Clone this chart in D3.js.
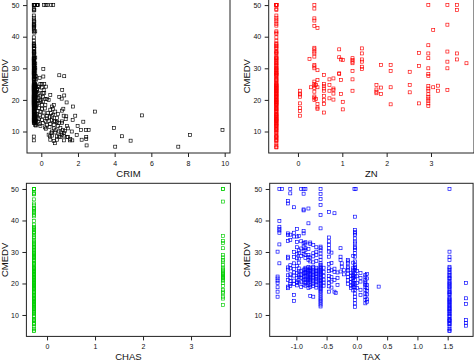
<!DOCTYPE html>
<html><head><meta charset="utf-8">
<script src="https://cdn.jsdelivr.net/npm/d3@7"></script>
<style>body{margin:0;background:#fff}svg{display:block}</style>
</head><body>
<svg id="chart" width="474" height="361"></svg>
<script>
// ---------- tick labels / titles ----------
const yTicks = [10, 20, 30, 40, 50];
const crimTicks = [0, 2, 4, 6, 8, 10];
const znTicks = [0, 1, 2, 3];
const chasTicks = [0, 1, 2, 3];
const taxTicks = [-1.0, -0.5, 0.0, 0.5, 1.0, 1.5];
const xTitles = ["CRIM", "ZN", "CHAS", "TAX"];
const yTitle = "CMEDV";

// ---------- panel 1: CRIM (standardised) vs CMEDV ----------
const crimColAX = -0.41;
const crimColA = [50,50,50,48.8,48.3,46.7,46.0,45.4,44.8,44.0,43.8,43.5,43.1,42.8,42.3,41.7,39.8,38.7,37.9,37.6,37.3,37.0,36.5,36.2,35.4,35.2,34.9,34.6,33.8,33.4,33.2,33.1,32.9,32.7,32.5,32.4,32.2,32.0,31.6,31.5,31.2,31.0,30.8,30.5,30.1,29.9,29.6,29.4,29.1,29.0,28.7,28.5,28.4,28.2,28.0,27.9,27.5,27.1,26.7,26.6,26.4,26.2,25.3,25.0,24.8,24.7,24.5,24.4,24.2,24.1,24.0,23.9,23.8,23.6,23.4,23.3,23.1,23.0,22.9,22.8,22.6,22.5,22.2,22.0,21.9,21.7,21.6,21.4,21.2,21.1,21.0,20.9,20.8,20.6,20.5,20.4,20.3,20.1,20.0,19.9,19.7,19.6,19.5,19.4,19.3,19.1,19.0,18.9,18.7,18.6,18.5,18.4,18.2,18.1,17.8,17.5,17.4,17.1,16.8,16.6,16.5,16.1,16.0,15.6,15.3,15.0,14.6,14.4,14.1,13.8,13.6,13.3,13.1,12.7];
const crimColBX = -0.38;
const crimColB = [48.5,44.8,43.5,41.3,37.0,36.1,35.1,34.7,33.3,33.0,32.0,31.7,31.1,30.7,30.3,29.8,29.1,28.6,28.1,27.5,26.6,25.0,24.8,24.6,24.4,24.3,24.0,23.9,23.7,23.5,23.2,23.1,22.9,22.7,22.6,22.4,22.3,22.2,22.0,21.8,21.7,21.5,21.2,21.0,20.7,20.6,20.4,20.2,20.0,19.8,19.6,19.4,19.2,19.1,18.9,18.8,18.6,18.5,18.3,18.2,17.8,17.5,17.2,16.7,16.2,15.6,15.2,14.9,14.5,14.3,13.9,13.4,12.7];
const crimColCX = -0.33;
const crimColC = [41.7,33.4,31.5,30.1,29.6,28.4,27.5,26.6,25.0,24.7,24.4,24.1,23.8,23.3,23.1,22.8,22.6,22.3,22.0,21.7,21.4,21.2,20.8,20.6,20.3,20.0,19.7,19.5,19.3,18.9,18.6,18.4,18.1,17.8,17.4,16.6,15.6,15.2,14.5,14.1,13.8,13.5,13.0,12.5,12.0];
const crimScatter = [
 [-0.36,50],[-0.35,50],[-0.25,50],[-0.24,50],[-0.21,50],[-0.19,50],[0.15,50],[0.24,50],[0.34,50],[0.54,50],[0.65,50],
 [-0.41,8.4],[-0.41,7.2],
 [0.11,29.8],[0.11,27.4],[0.98,27.8],[1.25,27.5],[-0.09,27.0],[-0.28,27.5],[-0.3,26.4],
 [-0.05,25.0],[0.04,25.0],[0.16,25.0],[-0.14,24.2],[0.26,24.2],[0.04,23.9],[1.14,23.1],[0.13,23.2],[-0.28,24.6],[-0.18,24.0],[-0.24,23.2],
 [-0.22,23.5],[-0.27,22.5],[-0.2,21.9],[-0.28,21.0],[-0.15,20.6],[-0.25,19.8],[-0.22,18.7],[-0.27,17.9],[-0.2,16.5],[-0.25,15.4],[-0.3,14.9],[-0.2,14.4],[-0.3,13.3],[-0.18,13.1],[-0.27,12.6],[-0.1,12.3],[-0.28,11.9],[-0.05,11.7],
 [0.49,21.6],[-0.12,22.2],[0.08,22.2],[0.16,22.2],[1.25,21.4],[-0.05,21.1],[0.09,20.9],[0.98,20.9],[1.11,20.4],[0.22,20.3],[0.31,20.3],[0.4,20.0],[-0.05,20.0],[-0.02,19.5],[0.09,19.5],[1.38,19.2],[-0.14,19.0],[0.04,18.4],[0.22,18.4],[0.68,18.4],[1.72,17.9],[0.58,17.9],
 [-0.14,17.4],[0.04,17.1],[0.19,17.3],[0.49,16.9],[0.64,17.1],[1.2,17.2],[1.13,16.6],
 [-0.05,16.3],[0.13,16.0],[0.35,15.8],[0.53,15.8],[0.76,16.3],[2.93,16.3],[0.65,15.2],[0.9,15.6],
 [-0.09,15.3],[0.09,14.8],[0.31,15.0],[0.58,14.8],[0.86,14.3],[1.22,15.0],[1.36,14.8],[1.85,15.0],[5.5,15.1],[0.3,14.1],[0.45,14.5],
 [-0.14,13.9],[0.04,13.7],[0.22,13.4],[0.4,13.4],[0.58,13.7],[0.76,13.2],[1.33,13.9],[1.71,13.7],[2.29,13.1],[1.13,13.2],[0.7,13.3],[0.85,13.0],
 [0.95,12.7],[0.09,12.7],[0.31,12.1],[0.49,12.4],[0.68,12.1],[1.13,12.7],[1.4,11.8],[1.98,11.8],[0.9,11.7],[0.45,11.4],[0.2,11.3],[0.25,10.9],[0.7,11.0],[0.78,10.4],
 [1.04,11.1],[1.46,11.0],[3.96,11.1],[1.18,10.5],[2.16,10.5],[2.44,10.5],[2.58,10.5],[9.88,10.5],[0.95,10.0],[1.66,10.0],[0.58,10.0],[0.76,9.7],[1.06,9.7],[1.24,9.5],[1.3,10.2],[0.55,9.5],[1.12,9.0],
 [1.93,8.9],[8.1,8.9],[0.4,9.0],[0.58,8.7],[0.86,8.5],[1.04,8.3],[1.22,8.7],[1.4,8.3],[1.45,8.3],[2.45,8.3],[4.4,8.5],[0.47,8.5],[0.96,8.4],
 [1.58,7.6],[2.45,7.6],[2.2,7.4],[1.56,7.2],[1.69,7.2],[4.87,7.1],[1.24,7.2],[0.86,7.4],[0.49,7.4],[0.68,7.0],[0.75,6.3],[2.47,5.6],[4.03,5.2],[7.47,5.2]
];

// ---------- panel 2: ZN (standardised) vs CMEDV ----------
const znZeroX = -0.487;
const znZeroY = [50,50,50,50,50,50,48.8,48.5,46.7,46.0,45.4,44.8,44.0,43.5,41.7,41.3,40.9,39.8,38.7,37.9,37.6,37.2,36.9,36.4,36.1,35.4,35.1,34.9,34.6,33.8,33.4,33.2,33.1,32.7,32.4,32.0,31.6,31.5,31.1,30.7,30.3,30.1,29.8,29.6,29.4,29.1,28.7,28.5,28.4,28.1,28.0,27.9,27.5,27.1,26.6,26.4,26.2,25.9,25.3,25.0,24.8,24.7,24.5,24.4,24.1,23.9,23.8,23.6,23.4,23.1,23.0,22.9,22.7,22.5,22.2,22.0,21.9,21.7,21.4,21.2,21.0,20.9,20.6,20.4,20.1,20.0,19.9,19.6,19.4,19.3,19.1,18.9,18.7,18.5,18.4,18.2,17.8,17.4,17.2,17.1,16.8,16.5,16.3,16.1,15.6,15.4,15.2,15.0,14.9,14.6,14.4,14.1,14.0,13.8,13.6,13.4,13.3,13.1,12.7,12.5,12.3,12.0,11.9,11.7,11.3,10.9,10.8,10.5,10.2,9.7,9.5,8.8,8.5,8.3,8.1,7.5,7.2,7.0,6.3,5.6,5.0,5.0];
const znScatter = [
 [0.049,22.9],[0.049,22.0],[0.049,21.7],[0.049,21.0],[0.049,18.9],[0.049,17.5],[0.049,16.5],[0.049,15.0],
 [0.26,33.0],[0.29,24.0],
 [0.37,50],[0.37,48.9],[0.37,45.8],[0.37,45.1],[0.37,43.4],[0.37,36.5],[0.37,36.0],[0.37,35.3],[0.37,34.7],[0.37,33.7],[0.37,31.0],[0.37,30.6],[0.37,30.0],[0.37,25.8],[0.37,25.0],[0.37,24.5],[0.37,23.8],[0.37,22.6],[0.37,21.1],[0.37,20.7],[0.37,20.0],
 [0.44,42.8],[0.44,29.4],[0.44,26.3],[0.41,24.7],[0.44,24.0],[0.41,20.3],[0.44,18.7],[0.44,17.6],[0.44,17.2],
 [0.59,27.9],[0.59,25.0],[0.59,24.4],[0.59,23.6],[0.59,22.9],[0.59,21.3],[0.59,20.0],[0.59,18.7],[0.59,16.0],
 [0.71,26.5],[0.71,24.7],[0.71,22.9],[0.71,20.5],
 [0.8,26.8],[0.8,23.6],[0.8,23.1],[0.8,22.0],[0.8,20.1],
 [0.93,36.0],[0.93,33.5],[0.93,28.4],[0.93,28.2],
 [0.97,32.8],[0.97,26.3],[0.97,21.9],
 [1.01,32.6],[1.01,19.4],[1.01,17.0],
 [1.23,33.2],[1.23,32.6],[1.23,32.1],[1.23,31.6],[1.23,29.1],[1.23,26.5],[1.23,22.9],
 [1.44,36.3],[1.44,34.7],[1.44,32.8],[1.44,32.1],[1.44,30.5],[1.44,29.8],
 [1.77,24.7],[1.77,23.3],[1.77,22.6],[1.77,22.1],
 [1.87,31.0],[1.87,23.9],[1.87,21.9],
 [2.09,31.0],[2.09,29.1],[2.09,24.0],[2.09,18.6],
 [2.52,28.9],[2.52,24.7],[2.52,22.4],
 [2.73,34.9],[2.73,30.7],[2.73,18.9],
 [2.94,50],[2.94,37.3],[2.94,34.7],[2.94,33.2],[2.94,30.0],[2.94,28.2],[2.94,27.6],[2.94,24.4],[2.94,23.6],[2.94,22.9],[2.94,21.8],[2.94,21.0],[2.94,20.4],[2.94,19.7],[2.94,18.9],[2.94,18.1],
 [3.05,42.1],[3.05,24.0],
 [3.16,24.5],[3.16,22.9],
 [3.37,50],[3.37,43.8],[3.37,35.3],[3.37,32.1],[3.37,30.0],[3.37,23.1],
 [3.59,50],[3.59,48.5],[3.59,34.7],[3.59,32.8],
 [3.80,31.6]
];

// ---------- panel 3: CHAS (standardised) vs CMEDV ----------
const chasZeroX = -0.272;
const chasZeroY = [50,50,50,50,50,48.8,48.5,48.3,46.7,45.4,44.8,44.0,43.8,43.5,43.1,42.8,42.3,41.7,41.3,39.8,38.7,37.9,37.6,37.3,37.0,36.5,36.2,36.1,35.4,34.9,34.6,33.8,33.4,33.1,32.7,32.4,32.0,31.6,31.5,31.2,30.8,30.5,30.1,29.8,29.6,29.4,29.1,28.7,28.5,28.4,28.1,27.9,27.5,27.1,26.6,26.4,26.2,25.9,25.3,25.0,24.8,24.7,24.5,24.4,24.1,23.9,23.8,23.6,23.4,23.1,23.0,22.9,22.7,22.5,22.2,22.0,21.9,21.7,21.4,21.2,21.0,20.9,20.6,20.4,20.1,20.0,19.9,19.6,19.4,19.3,19.1,18.9,18.7,18.5,18.4,18.2,17.8,17.4,17.2,17.1,16.8,16.5,16.3,16.1,15.6,15.4,15.2,15.0,14.9,14.6,14.4,14.1,14.0,13.8,13.6,13.4,13.3,13.1,12.7,12.5,12.3,12.0,11.9,11.7,11.3,10.9,10.8,10.5,10.2,9.7,9.5,8.8,8.5,8.3,8.1,7.5,7.2,7.0,6.3,5.6,5.0,5.0];
const chasOneX = 3.665;
const chasOneY = [50,50,46.0,35.1,33.5,32.8,31.2,29.0,28.3,27.5,27.0,25.9,25.1,24.5,24.1,23.8,23.3,23.0,22.7,22.4,22.0,21.9,21.7,21.3,20.9,20.1,19.2,17.9,17.4,16.9,15.8,15.2,13.2];

// ---------- panel 4: TAX (standardised) vs CMEDV ----------
const tax666X = 1.53;
const tax666Y = [50,30.1,28.5,27.5,25.3,24.8,24.3,23.7,23.2,22.7,22.2,21.7,21.4,20.8,20.3,20.0,19.6,19.1,18.8,18.4,17.8,17.3,17.1,16.7,16.3,15.6,15.2,14.9,14.5,14.1,13.8,13.4,13.1,12.7,12.3,11.9,11.7,11.3,10.9,10.5,10.2,9.7,9.5,8.8,8.5,8.3,8.1,7.5,7.2,7.0,6.3,5.6,5.0,5.0];
const taxScatter = [
 [-1.31,30.1],[-1.31,22.2],[-1.31,21.6],[-1.31,20.9],[-1.31,20.1],[-1.31,18.8],[-1.31,17.4],[-1.31,15.8],
 [-1.28,50],[-1.28,39.8],[-1.28,38.0],[-1.28,37.3],[-1.28,36.8],[-1.28,36.1],[-1.28,32.4],[-1.28,26.4],[-1.24,50],
 [-1.14,46.2],[-1.14,45.4],[-1.14,35.9],[-1.14,35.4],[-1.14,33.5],[-1.14,28.5],[-1.14,28.0],[-1.14,25.1],[-1.14,24.4],[-1.14,22.6],[-1.14,21.1],[-1.14,19.0],[-1.14,18.5],
 [-1.10,50],[-1.10,48.6],[-1.10,35.5],[-1.10,33.8],[-1.10,25.8],[-1.10,24.8],[-1.10,22.9],[-1.10,21.7],[-1.10,20.7],[-1.10,19.8],[-1.10,19.2],
 [-1.04,44.2],[-1.04,36.1],[-1.04,34.9],[-1.04,30.0],[-1.04,28.4],[-1.04,26.4],[-1.04,24.6],[-1.04,23.5],[-1.04,22.5],[-1.04,20.9],[-1.04,19.8],[-1.04,16.3],[-1.04,14.5],
 [-0.99,37.3],[-0.99,34.9],[-0.99,33.2],[-0.99,31.5],[-0.99,29.4],[-0.99,28.0],[-0.99,25.5],[-0.99,23.3],[-0.99,21.7],[-0.99,20.5],[-0.99,20.1],[-0.99,19.4],
 [-0.96,35.1],[-0.96,30.5],[-0.96,29.6],[-0.96,27.9],[-0.96,26.6],[-0.96,24.8],[-0.96,23.8],[-0.96,22.6],[-0.96,22.0],[-0.96,20.3],
 [-0.92,50],[-0.88,50],[-0.88,48.5],[-0.88,43.5],[-0.88,43.2],[-0.88,36.7],[-0.88,35.9],[-0.92,33.4],[-0.88,32.9],[-0.88,31.7],[-0.92,31.1],[-0.88,30.3],[-0.88,29.4],[-0.92,28.7],[-0.88,24.4],[-0.92,23.9],[-0.88,23.2],[-0.92,22.8],[-0.88,22.2],[-0.92,21.7],[-0.88,21.2],[-0.92,20.6],[-0.88,19.6],[-0.92,18.9],
 [-0.85,50],[-0.85,33.1],[-0.85,32.7],[-0.85,31.2],[-0.85,30.7],[-0.85,29.1],[-0.85,28.1],[-0.85,25.0],[-0.85,24.6],[-0.85,24.2],[-0.85,23.7],[-0.85,23.3],[-0.85,22.9],[-0.85,22.4],[-0.85,21.6],[-0.85,21.1],[-0.85,20.5],[-0.85,20.0],[-0.85,19.3],
 [-0.80,43.8],[-0.80,39.1],[-0.80,31.0],[-0.80,29.0],[-0.80,28.4],[-0.80,27.5],[-0.80,25.2],[-0.80,24.4],[-0.80,24.0],[-0.80,23.4],[-0.80,22.7],[-0.80,22.0],[-0.80,21.4],[-0.80,20.9],[-0.80,20.2],[-0.80,19.6],[-0.80,18.6],
 [-0.77,33.0],[-0.77,32.5],[-0.77,28.2],[-0.77,27.0],[-0.77,25.0],[-0.77,24.7],[-0.77,24.3],[-0.77,23.9],[-0.77,23.1],[-0.77,22.6],[-0.77,22.2],[-0.77,21.6],[-0.77,21.0],[-0.77,20.6],[-0.77,19.4],[-0.77,18.9],[-0.77,16.0],
 [-0.72,32.2],[-0.72,29.6],[-0.72,28.6],[-0.72,26.7],[-0.72,25.3],[-0.72,24.8],[-0.72,24.1],[-0.72,23.6],[-0.72,23.2],[-0.72,22.8],[-0.72,22.2],[-0.72,21.8],[-0.72,21.2],[-0.72,20.6],[-0.72,19.9],[-0.72,19.2],[-0.72,15.8],
 [-0.67,31.5],[-0.67,30.1],[-0.67,29.1],[-0.67,27.1],[-0.67,25.0],[-0.67,24.4],[-0.67,24.0],[-0.67,23.5],[-0.67,23.0],[-0.67,22.5],[-0.67,22.0],[-0.67,21.5],[-0.67,20.8],[-0.67,20.3],[-0.67,19.5],[-0.67,18.7],
 [-0.60,50],[-0.60,48.4],[-0.60,46.8],[-0.60,44.9],[-0.60,41.7],[-0.60,37.5],[-0.60,31.7],[-0.60,31.2],[-0.60,30.5],[-0.60,29.5],[-0.60,28.5],[-0.60,27.5],[-0.60,26.4],[-0.60,25.9],[-0.60,25.3],[-0.60,25.0],[-0.60,24.7],[-0.60,24.4],[-0.60,24.1],[-0.60,23.8],[-0.60,23.5],[-0.60,23.2],[-0.60,22.9],[-0.60,22.6],[-0.60,22.2],[-0.60,21.9],[-0.60,21.6],[-0.60,21.2],[-0.60,20.9],[-0.60,20.6],[-0.60,20.2],[-0.60,19.8],[-0.60,19.4],[-0.60,19.0],[-0.60,18.6],[-0.60,18.2],[-0.60,17.8],[-0.60,17.4],[-0.60,16.8],[-0.60,16.2],[-0.60,15.6],[-0.60,15.0],[-0.60,14.4],[-0.60,13.9],[-0.60,13.3],[-0.60,12.7],
 [-0.55,25.0],[-0.55,23.7],[-0.55,22.4],[-0.55,21.2],[-0.55,20.3],[-0.55,19.3],
 [-0.46,42.7],[-0.46,34.6],[-0.46,33.4],[-0.46,32.2],[-0.46,31.2],[-0.46,30.1],[-0.46,28.5],[-0.46,26.2],[-0.46,24.8],[-0.46,23.9],[-0.46,22.4],[-0.46,21.4],[-0.46,20.1],[-0.46,19.1],[-0.46,17.4],
 [-0.42,29.8],[-0.42,26.5],[-0.42,24.2],[-0.42,22.0],[-0.42,20.6],[-0.42,18.7],
 [-0.37,42.3],[-0.37,24.7],[-0.37,23.7],[-0.37,21.1],[-0.37,17.4],[-0.35,17.0],
 [-0.32,23.5],[-0.32,21.8],[-0.32,19.5],
 [-0.27,31.2],[-0.27,28.5],[-0.27,27.5],[-0.25,26.4],[-0.25,25.3],[-0.27,23.8],
 [-0.21,24.2],[-0.21,22.9],
 [-0.15,27.5],[-0.15,27.0],[-0.15,26.4],[-0.15,25.3],[-0.15,24.8],[-0.15,24.2],[-0.15,23.1],[-0.15,22.0],[-0.15,21.0],[-0.15,19.9],
 [-0.10,23.4],[-0.10,22.5],[-0.10,21.4],[-0.10,20.5],[-0.10,19.3],[-0.10,18.6],
 [-0.06,28.7],[-0.06,26.6],[-0.06,25.0],[-0.06,24.4],[-0.06,23.8],[-0.06,22.8],[-0.06,22.3],[-0.06,21.7],[-0.06,20.9],[-0.06,20.2],[-0.06,19.6],[-0.06,18.9],[-0.06,17.8],
 [-0.04,50],[-0.02,50],[-0.03,41.2],[-0.03,37.0],[-0.03,36.4],[-0.03,35.9],[-0.03,35.4],[-0.03,34.3],[-0.03,33.3],[-0.03,32.7],[-0.03,31.7],[-0.03,31.2],[-0.03,30.6],[-0.03,29.6],[-0.03,28.5],[-0.03,27.0],[-0.03,25.9],[-0.03,25.3],[-0.03,24.8],[-0.03,24.3],[-0.03,23.2],[-0.03,22.2],[-0.03,21.1],[-0.03,20.0],[-0.03,18.9],[-0.03,17.9],[-0.03,16.8],[-0.03,15.8],[-0.03,14.8],[-0.03,13.7],[-0.03,12.6],
 [0.00,24.0],[0.00,22.3],[0.00,20.1],[0.00,18.6],
 [0.06,23.3],[0.06,21.7],[0.06,20.6],[0.06,18.0],[0.06,16.4],
 [0.14,22.7],[0.14,22.2],[0.14,21.1],[0.14,20.6],[0.14,20.0],[0.14,19.5],[0.14,19.0],[0.14,17.9],[0.14,16.8],[0.14,15.8],[0.14,14.8],[0.14,13.7],
 [0.17,23.0],[0.17,21.6],[0.17,19.5],[0.17,18.5],[0.17,17.6],[0.17,16.5],[0.17,15.0],[0.17,14.2],
 [0.36,19.0],
 [1.80,20.1],[1.80,15.3],[1.80,13.5],[1.80,8.4],[1.80,7.4],[1.80,6.6]
];

// ---------- assemble point sets ----------
const crimPoints = [
  ...crimColA.map(v => [crimColAX, v]),
  ...crimColB.map(v => [crimColBX, v]),
  ...crimColC.map(v => [crimColCX, v]),
  ...crimScatter];
const znPoints = [...znZeroY.map(v => [znZeroX, v]), ...znScatter];
const chasPoints = [...chasZeroY.map(v => [chasZeroX, v]), ...chasOneY.map(v => [chasOneX, v])];
const taxPoints = [...taxScatter, ...tax666Y.map(v => [tax666X, v])];

// ---------- layout ----------
const FONT = "'Liberation Sans', Arial, Helvetica, sans-serif";
const yDomain = [3.2, 51.8];
const panels = [
  {pts: crimPoints, ticks: crimTicks, fmt: d => String(d), title: xTitles[0], color: "#000000",
   xd: [-0.78, 10.29], xr: [27, 230], yr: [153, -0.6], ytx: 7.8},
  {pts: znPoints, ticks: znTicks, fmt: d => String(d), title: xTitles[1], color: "#FF0000",
   xd: [-0.66, 3.97], xr: [268.7, 474], yr: [153, -0.6], ytx: 249.5},
  {pts: chasPoints, ticks: chasTicks, fmt: d => String(d), title: xTitles[2], color: "#00CD00",
   xd: [-0.43, 3.82], xr: [26.4, 230.4], yr: [336.4, 183.3], ytx: 7.8},
  {pts: taxPoints, ticks: taxTicks, fmt: d => d.toFixed(1), title: xTitles[3], color: "#0000FF",
   xd: [-1.44, 1.92], xr: [269.7, 473.1], yr: [336.4, 183.3], ytx: 249.5}
];

const svg = d3.select("#chart");
svg.append("rect").attr("width", 474).attr("height", 361).attr("fill", "#fff");

panels.forEach(p => {
  const x = d3.scaleLinear().domain(p.xd).range(p.xr);
  const y = d3.scaleLinear().domain(yDomain).range(p.yr);
  const g = svg.append("g");

  g.append("g").selectAll("rect").data(p.pts).join("rect")
    .attr("x", d => x(d[0]) - 1.5).attr("y", d => y(d[1]) - 1.5)
    .attr("width", 3).attr("height", 3)
    .attr("fill", "none").attr("stroke", p.color).attr("stroke-width", 0.65);

  g.append("rect")
    .attr("x", p.xr[0]).attr("y", p.yr[1])
    .attr("width", p.xr[1] - p.xr[0]).attr("height", p.yr[0] - p.yr[1])
    .attr("fill", "none").attr("stroke", "#222").attr("stroke-width", 1);

  const xa = g.append("g").attr("transform", `translate(0,${p.yr[0]})`)
    .call(d3.axisBottom(x).tickValues(p.ticks).tickFormat(p.fmt).tickSize(4).tickPadding(4));
  const ya = g.append("g").attr("transform", `translate(${p.xr[0]},0)`)
    .call(d3.axisLeft(y).tickValues(yTicks).tickFormat(d => String(d)).tickSize(4).tickPadding(3.5));
  [xa, ya].forEach(a => {
    a.select(".domain").remove();
    a.selectAll("line").attr("stroke", "#222");
    a.selectAll("text").attr("font-family", FONT).attr("font-size", 7).attr("fill", "#111");
  });

  g.append("text").attr("x", (p.xr[0] + p.xr[1]) / 2).attr("y", p.yr[0] + 24)
    .attr("text-anchor", "middle").attr("font-family", FONT).attr("font-size", 9.5).attr("fill", "#111")
    .text(p.title);
  g.append("text")
    .attr("transform", `translate(${p.ytx},${(p.yr[0] + p.yr[1]) / 2}) rotate(-90)`)
    .attr("text-anchor", "middle").attr("font-family", FONT).attr("font-size", 9.5).attr("fill", "#111")
    .text(yTitle);
});
</script>
</body></html>
